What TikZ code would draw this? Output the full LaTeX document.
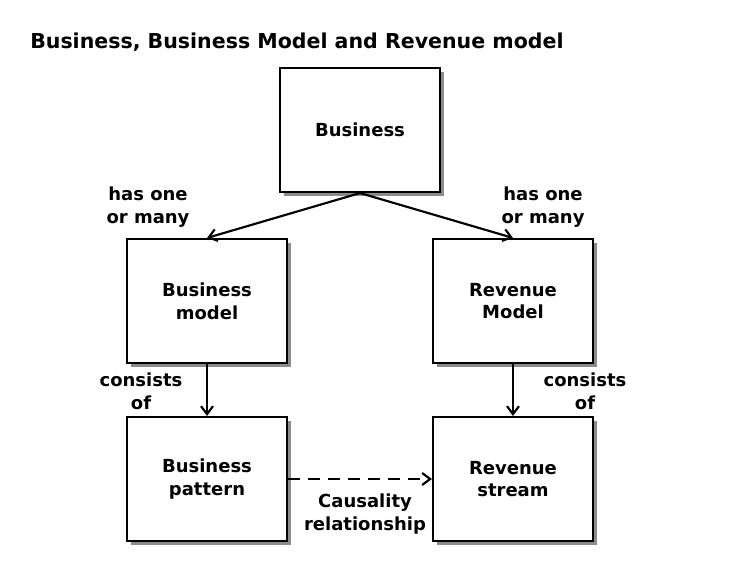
\documentclass[tikz,border=0pt]{standalone}
\usepackage{fontspec}
\setmainfont{DejaVu Sans}
\usetikzlibrary{arrows.meta,shadows}
\begin{document}
\begin{tikzpicture}[x=0.75pt,y=0.75pt,yscale=-1,xscale=1,
    box/.style={draw, line width=1.6pt, fill=white, minimum width=120pt, minimum height=93pt,
      align=center, font=\bfseries\fontsize{13.5}{17}\selectfont,
      drop shadow={shadow xshift=3pt, shadow yshift=-3pt, fill=black!45, opacity=1}},
    lbl/.style={align=center, font=\bfseries\fontsize{13.5}{17}\selectfont, inner sep=0pt},
    link/.style={line width=1.6pt, -{Straight Barb[length=6pt,width=9pt,line width=1.6pt]}}]
    \useasboundingbox (0,0) rectangle (750,563);
    % title
    \node [anchor=west, inner sep=0pt, font=\bfseries\fontsize{15.4}{18}\selectfont] (title) at (30,42) {Business, Business Model and Revenue model};
    % boxes
    \node [box] (bus) at (360,130) {Business};
    \node [box] (bm) at (207,301) {Business\\model};
    \node [box] (rm) at (513,301) {Revenue\\Model};
    \node [box] (bp) at (207,479) {Business\\pattern};
    \node [box] (rs) at (513,479) {Revenue\\stream};
    % connectors
    \draw [link] (bus.south) -- (bm.north);
    \draw [link] (bus.south) -- (rm.north);
    \draw [link] (bm.south) -- (bp.north);
    \draw [link] (rm.south) -- (rs.north);
    \draw [link, dashed, dash pattern=on 9pt off 6pt] (bp.east) -- (rs.west);
    % labels
    \node [lbl] (l1) at (148,207) {has one\\or many};
    \node [lbl] (l2) at (543,207) {has one\\or many};
    \node [lbl] (l3) at (141,391) {consists\\of};
    \node [lbl] (l4) at (585,391) {consists\\of};
    \node [lbl] (l5) at (365,514) {Causality\\relationship};
\end{tikzpicture}
\end{document}
